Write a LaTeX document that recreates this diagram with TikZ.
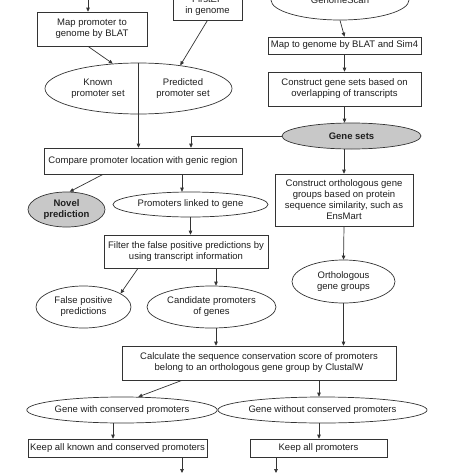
\documentclass[tikz,border=0pt]{standalone}
\usepackage{fontspec}
\setmainfont{Liberation Sans}
\usetikzlibrary{shapes.geometric,arrows.meta}
\definecolor{ln}{HTML}{333333}
\definecolor{tx}{HTML}{1E1E1E}
\definecolor{fillg}{HTML}{C8C8C8}
\begin{document}
\begin{tikzpicture}[x=1pt,y=-1pt,
  every node/.style={font=\fontsize{9.5}{11}\selectfont, text=tx, align=center, inner sep=0pt},
  boxn/.style={draw=ln, line width=0.7pt, rectangle},
  elln/.style={draw=ln, line width=0.7pt, ellipse},
  grayell/.style={elln, fill=fillg, font=\fontsize{9.5}{11}\selectfont\bfseries},
  arr/.style={draw=ln, line width=0.7pt, -{Triangle[length=4pt,width=3.6pt]}},
  ln/.style={draw=ln, line width=0.7pt}]
\useasboundingbox (0,0) rectangle (474,474);
\begin{scope}
\clip (0,0) rectangle (474,474);
% top row
\node[boxn, minimum width=110, minimum height=34] (map) at (92,29) {Map promoter to\\genome by BLAT};
\node[boxn, minimum width=69, minimum height=28] (fef) at (207.5,6) {FirstEF\\in genome};
\node[elln, minimum width=138, minimum height=40] (gscan) at (340,0) {GenomeScan};
\coordinate (topin) at (88,-5);
% ellipse known/predicted
\node[elln, minimum width=187, minimum height=51] (kp) at (138.5,88.5) {};
\node (known) at (98,88.5) {Known\\promoter set};
\node (pred) at (183,88.5) {Predicted\\promoter set};
% right column
\node[boxn, minimum width=153, minimum height=17] (mapg) at (344.5,45.5) {Map to genome by BLAT and Sim4};
\node[boxn, minimum width=153, minimum height=34] (cgs) at (344.5,89) {Construct gene sets based on\\overlapping of transcripts};
\node[grayell, minimum width=139, minimum height=26] (gs) at (351.5,136) {Gene sets};
\node[boxn, minimum width=138, minimum height=52] (orth) at (344,200) {Construct orthologous gene\\groups based on protein\\sequence similarity, such as\\EnsMart};
\node[elln, minimum width=103, minimum height=43] (oeg) at (343.5,281.5) {Orthologous\\gene groups};
% left middle
\node[boxn, minimum width=198, minimum height=26] (cmp) at (143,161) {Compare promoter location with genic region};
\node[grayell, minimum width=77, minimum height=35] (novel) at (66.5,209.5) {Novel\\prediction};
\node[elln, minimum width=155, minimum height=25] (plg) at (190.5,204.5) {Promoters linked to gene};
\node[boxn, minimum width=164, minimum height=33] (flt) at (186,251.5) {Filter the false positive predictions by\\using transcript information};
\node[elln, minimum width=95, minimum height=42] (fpos) at (83.5,307) {False positive\\predictions};
\node[elln, minimum width=129, minimum height=42] (cand) at (211.5,307) {Candidate promoters\\of genes};
% bottom
\node[boxn, minimum width=274, minimum height=34] (calc) at (259,363) {Calculate the sequence conservation score of promoters\\belong to an orthologous gene group by ClustalW};
\node[elln, minimum width=188, minimum height=26] (gwith) at (122,410) {Gene with conserved promoters};
\node[elln, minimum width=197, minimum height=26] (gwo) at (322.5,410) {Gene without conserved promoters};
\node[boxn, minimum width=179, minimum height=18] (kk) at (117.5,448) {Keep all known and conserved promoters};
\node[boxn, minimum width=137, minimum height=18] (ka) at (318.5,448) {Keep all promoters};
\coordinate (outk) at (182,474);
\coordinate (outa) at (276,474);
% helper coordinates
\coordinate (xplg) at (182,0);
\coordinate (xcand) at (216,0);
\coordinate (xgwo) at (319,0);
\coordinate (xgw) at (113,0);
\coordinate (xgs) at (191,0);
% connectors
\draw[arr] (topin) -- (topin |- map.north);
\draw[arr] ([xshift=-4pt]map.south) -- (kp.136);
\draw[arr] (fef.south) -- (kp.29);
\draw[arr] (gscan.south) -- (mapg.north);
\draw[arr] (mapg.south) -- (cgs.north);
\draw[arr] (cgs.south) -- (cgs.south |- gs.north);
\draw[ln] (kp.north) -- (kp.south);
\draw[arr] (kp.south) -- (kp.south |- cmp.north);
\draw[arr] (gs.west) -| (xgs |- cmp.north);
\draw[arr] (orth.north |- gs.south) -- (orth.north);
\draw[arr] ([xshift=-40pt]cmp.south) -- (novel.80);
\draw[arr] (xplg |- cmp.south) -- (xplg |- plg.north);
\draw[arr] (plg.south) -- (plg.south |- flt.north);
\draw[arr] ([xshift=-48pt]flt.south) -- (fpos.20);
\draw[arr] (xcand |- flt.south) -- (xcand |- cand.north);
\draw[arr] (orth.south) -- (oeg.north);
\draw[arr] (xcand |- cand.south) -- (xcand |- calc.north);
\draw[arr] (oeg.south) -- (oeg.south |- calc.north);
\draw[arr] ([xshift=-77pt]calc.south) -- (gwith.39);
\draw[arr] (xgwo |- calc.south) -- (xgwo |- gwo.north);
\draw[arr] (xgw |- gwith.south) -- (xgw |- kk.north);
\draw[arr] (xgwo |- gwo.south) -- (xgwo |- ka.north);
\draw[arr] (outk |- kk.south) -- ([yshift=1pt]outk);
\draw[arr] (outa |- ka.south) -- ([yshift=1pt]outa);
\end{scope}
\end{tikzpicture}
\end{document}
